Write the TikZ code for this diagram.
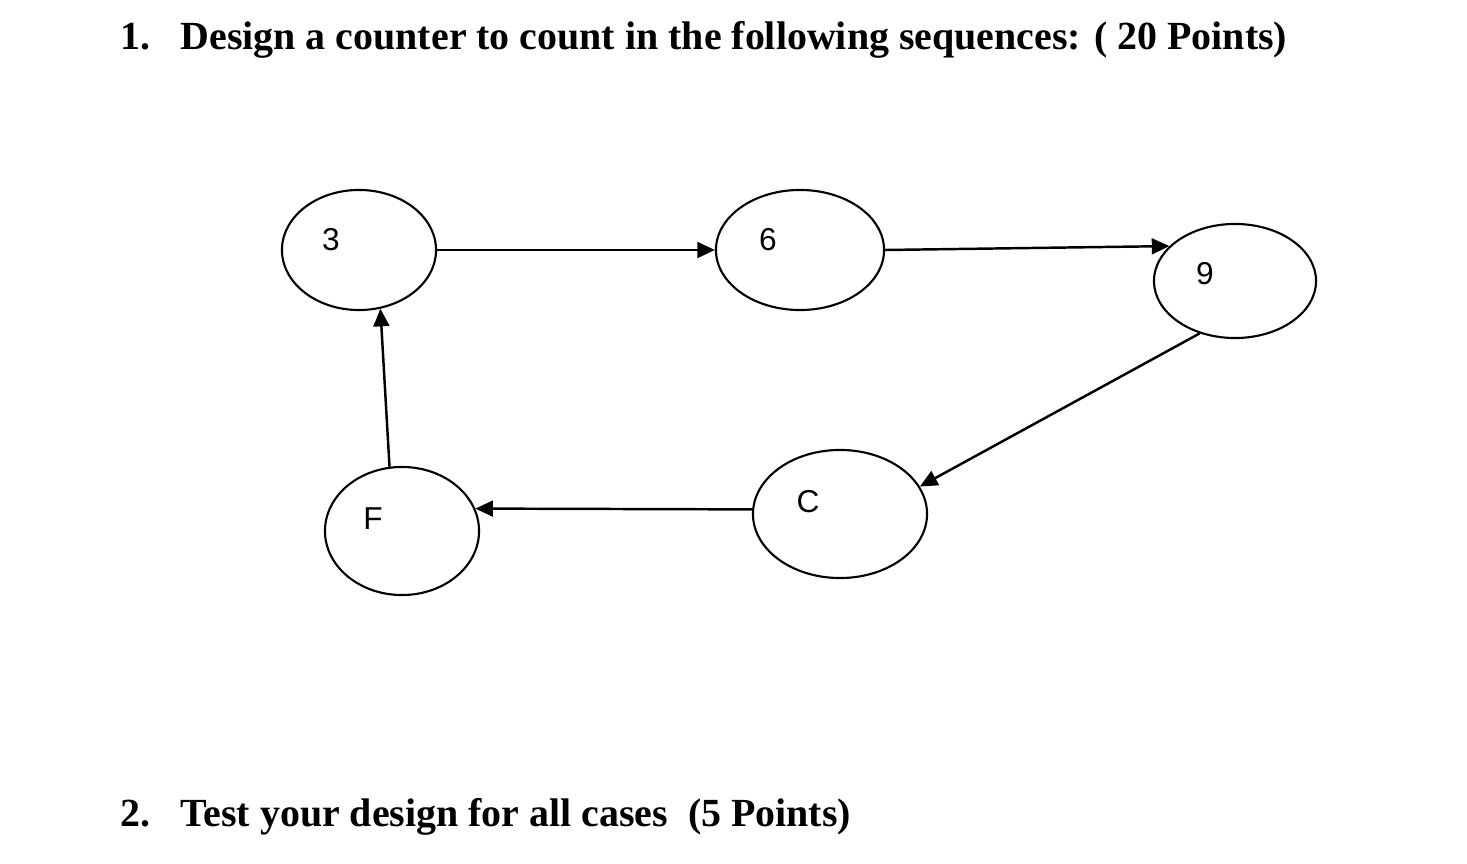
\documentclass[tikz,border=0pt]{standalone}
\usepackage{fontspec}
\setmainfont{Liberation Serif}
\newfontfamily\lsans{Liberation Sans}
\usetikzlibrary{shapes.geometric,arrows.meta}
\begin{document}
\begin{tikzpicture}[x=0.01cm,y=-0.01cm,
  st/.style={draw,ellipse,line width=0.6pt,inner sep=0pt},
  lab/.style={font=\lsans\fontsize{9}{10}\selectfont},
  ar/.style={line width=0.7pt,-{Triangle[length=5pt,width=4.5pt]}},
  ttl/.style={anchor=base west,inner sep=0pt,font=\bfseries\fontsize{11.35}{13}\selectfont}]
\useasboundingbox (0,0) rectangle (1467,864);
\node[ttl] (t1n) at (120,50) {1.};
\node[ttl] (t1) at (180,50) {Design a counter to count in the following sequences: ( 20 Points)};
\node[ttl] (t2n) at (120,826) {2.};
\node[ttl] (t2) at (180,826) {Test your design for all cases\ \ (5 Points)};
\node[st,minimum width=1.54cm,minimum height=1.20cm] (n3) at (359,250) {};
\node[st,minimum width=1.68cm,minimum height=1.20cm] (n6) at (800,250) {};
\node[st,minimum width=1.62cm,minimum height=1.14cm] (n9) at (1235,281) {};
\node[st,minimum width=1.74cm,minimum height=1.28cm] (nC) at (840,514) {};
\node[st,minimum width=1.54cm,minimum height=1.28cm] (nF) at (402,531) {};
\node[lab] (l3) at (331,240) {3};
\node[lab] (l6) at (768,240) {6};
\node[lab] (l9) at (1205,274) {9};
\node[lab] (lC) at (808,502) {C};
\node[lab] (lF) at (373,519) {F};
\draw[ar] (n3.east) -- (n6.west);
\draw[ar] (n6.east) -- (n9.152);
\draw[ar] (n9.236) -- (nC.19);
\draw[ar] (nC.177) -- (nF.17);
\draw[ar] (nF.101) -- (n3.290);
\end{tikzpicture}
\end{document}
